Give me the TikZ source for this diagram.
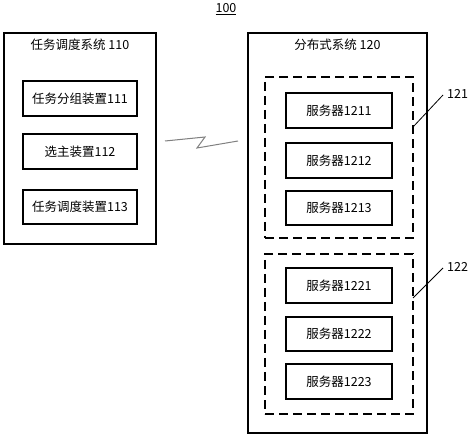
\documentclass[tikz,border=0pt]{standalone}
\usepackage{fontspec}
\setmainfont{Noto Sans CJK SC}
\begin{document}
\begin{tikzpicture}[x=1pt,y=-1pt,
  every node/.style={font=\fontsize{12.5}{14}\selectfont, inner sep=0pt},
  frame/.style={draw, line width=1.2pt, rectangle},
  inbox/.style={draw, line width=1.2pt, rectangle},
  grp/.style={draw, line width=1.4pt, dash pattern=on 9pt off 5pt, rectangle},
  leader/.style={draw, line width=0.8pt},
  bolt/.style={draw=gray, line width=1pt, line join=miter}]
\useasboundingbox (0,0) rectangle (474,438);
% title number
\node (n100) at (226,9) {\underline{100}};
% left system
\node[frame, minimum width=152pt, minimum height=211pt] (sys110) at (80,138.5) {};
\node (t110) at (80,45) {任务调度系统\ 110};
\node[inbox, minimum width=114pt, minimum height=35pt] (b111) at (80,98.5) {任务分组装置111};
\node[inbox, minimum width=114pt, minimum height=35pt] (b112) at (80,151.5) {选主装置112};
\node[inbox, minimum width=114pt, minimum height=34pt] (b113) at (80,207) {任务调度装置113};
% right system
\node[frame, minimum width=179pt, minimum height=400pt] (sys120) at (337.5,233) {};
\node (t120) at (337.5,45) {分布式系统\ 120};
\node[grp, minimum width=148pt, minimum height=161pt] (g121) at (339,157.5) {};
\node[grp, minimum width=148pt, minimum height=160pt] (g122) at (339,334) {};
\node[inbox, minimum width=106pt, minimum height=35pt] (s1211) at (339,110.5) {服务器1211};
\node[inbox, minimum width=106pt, minimum height=35pt] (s1212) at (339,160.5) {服务器1212};
\node[inbox, minimum width=106pt, minimum height=34pt] (s1213) at (339,208) {服务器1213};
\node[inbox, minimum width=106pt, minimum height=35pt] (s1221) at (339,285.5) {服务器1221};
\node[inbox, minimum width=106pt, minimum height=34pt] (s1222) at (339,334) {服务器1222};
\node[inbox, minimum width=106pt, minimum height=35pt] (s1223) at (339,381.5) {服务器1223};
% leaders
\node[anchor=west] (l121) at (447,94) {121};
\node[anchor=west] (l122) at (447,267) {122};
\coordinate (a121) at (413,127);
\coordinate (e121) at (443,95);
\coordinate (a122) at (413,298);
\coordinate (e122) at (443,268);
\draw[leader] (a121) -- (e121);
\draw[leader] (a122) -- (e122);
% lightning link
\coordinate (z1) at (165,141);
\coordinate (z2) at (205,137);
\coordinate (z3) at (197,148);
\coordinate (z4) at (238,141);
\draw[bolt] (z1) -- (z2) -- (z3) -- (z4);
\end{tikzpicture}
\end{document}
